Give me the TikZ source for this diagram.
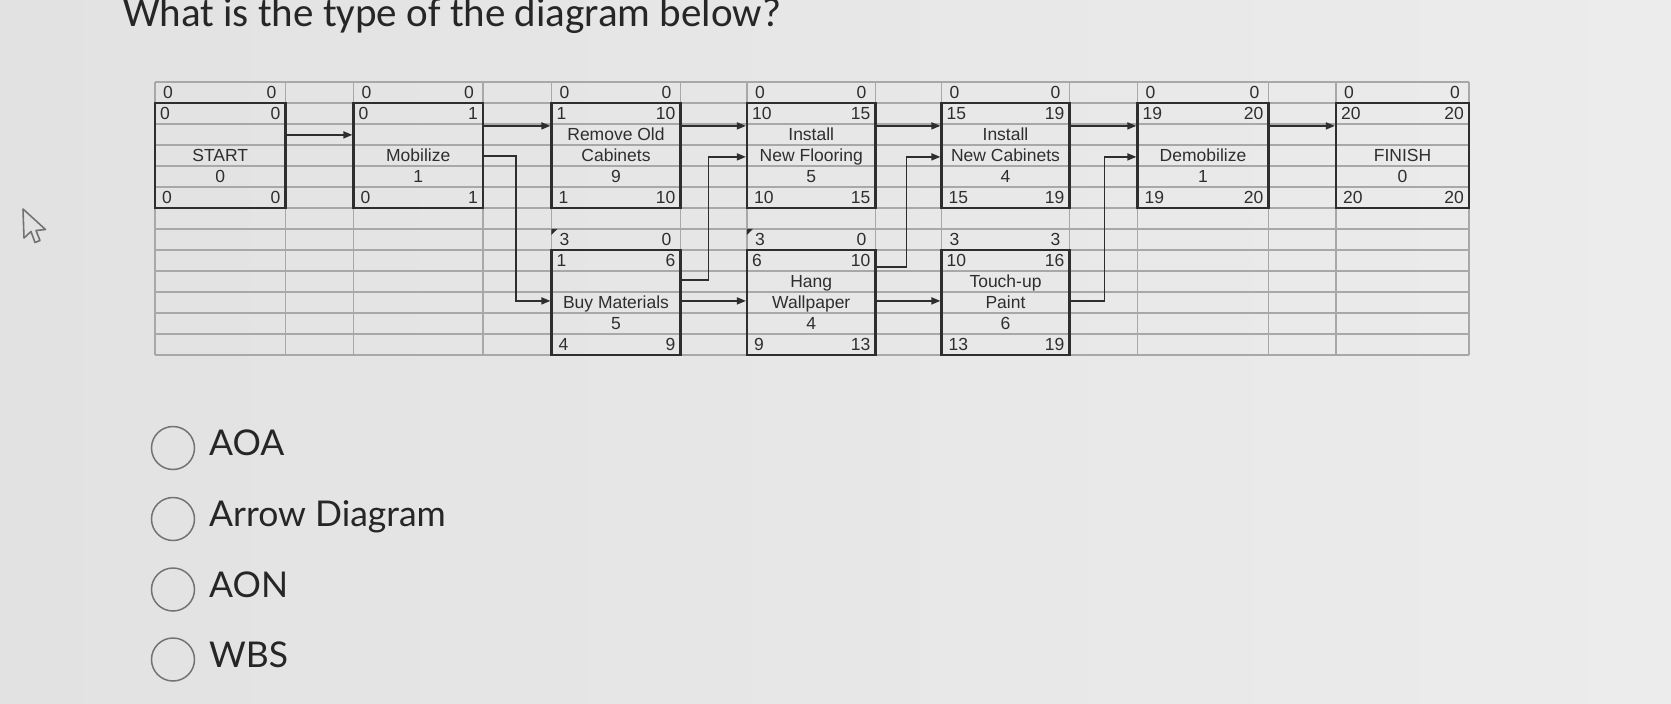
\documentclass[tikz,border=0pt]{standalone}
\usepackage{fontspec}
\setmainfont{Liberation Sans}
\newfontfamily\qfont{Carlito}
\newfontfamily\optfont{Lato}
\usepackage{tikz}
\usepackage{xcolor}
\usetikzlibrary{arrows.meta}
\definecolor{bgl}{HTML}{E2E2E2}
\definecolor{bgr}{HTML}{ECECEC}
\definecolor{gridgray}{HTML}{A8A8A8}
\definecolor{ink}{HTML}{2E2E2E}
\definecolor{qink}{HTML}{262626}
\tikzset{
	actbox/.style={draw=ink,line width=2.2pt,rectangle,inner sep=0pt},
	num/.style={font=\fontsize{17.5}{17.5}\selectfont,text=ink,inner sep=0pt,text height=12.6pt,text depth=0pt},
	gridline/.style={draw=gridgray,line width=1.1pt},
	link/.style={draw=ink,line width=1.6pt,-{Triangle[length=9pt,width=7pt]}},
	radio/.style={circle,draw=black!55,line width=1.5pt,minimum size=43pt,inner sep=0pt},
	opt/.style={font=\optfont\fontsize{35.5}{35.5}\selectfont,text=qink,inner sep=0pt},
}
\begin{document}
\begin{tikzpicture}[x=1pt,y=-1pt]
		\useasboundingbox (0,0) rectangle (1671,704);
		\fill[left color=bgl,right color=bgr] (0,0) rectangle (1671,704);
		\node[anchor=base west,font=\qfont\fontsize{41}{41}\selectfont,text=qink,inner sep=0pt] (question) at (123,26) {What is the type of the diagram below?};
		\draw[draw=black!55,line width=1.6pt,line join=round] (23,209) -- (24,238) -- (31,231.5) -- (35,242.5) -- (40,240.5) -- (36,230.5) -- (45.5,229.5) -- cycle;
		\foreach \cx in {155,285.5,353.5,483,551.5,680.5,747,875.5,941.5,1069.5,1137.5,1268.5,1336,1469}
			\draw[gridline] (\cx,82) -- (\cx,355);
		\foreach \k in {0,...,13}
			\draw[gridline] (155,{82+21*\k}) -- (1469,{82+21*\k});
		\foreach \aN/\aL/\aR/\aRow/\aTL/\aTR/\aES/\aEF/\aNA/\aNB/\aDU/\aLS/\aLF in {
			start/155/285.5/1/0/0/0/0/{}/START/0/0/0,
			mob/353.5/483/1/0/0/0/1/{}/Mobilize/1/0/1,
			rem/551.5/680.5/1/0/0/1/10/Remove Old/Cabinets/9/1/10,
			flo/747/875.5/1/0/0/10/15/Install/New Flooring/5/10/15,
			cab/941.5/1069.5/1/0/0/15/19/Install/New Cabinets/4/15/19,
			demob/1137.5/1268.5/1/0/0/19/20/{}/Demobilize/1/19/20,
			fin/1336/1469/1/0/0/20/20/{}/FINISH/0/20/20,
			buy/551.5/680.5/8/3/0/1/6/{}/Buy Materials/5/4/9,
			hang/747/875.5/8/3/0/6/10/Hang/Wallpaper/4/9/13,
			touch/941.5/1069.5/8/3/3/10/16/Touch-up/Paint/6/13/19}{
			\pgfmathsetmacro\yt{82+21*\aRow}
			\pgfmathsetmacro\xm{(\aL+\aR)/2}
			\node[actbox,minimum width={\aR-\aL},minimum height=105] (\aN) at (\xm,{\yt+52.5}) {};
			\node[num,anchor=west] (\aN-tl) at ({\aL+8},{\yt-10.5}) {\aTL};
			\node[num,anchor=east] (\aN-tr) at ({\aR-9},{\yt-10.5}) {\aTR};
			\node[num,anchor=west] (\aN-es) at ({\aL+5},{\yt+10.5}) {\aES};
			\node[num,anchor=east] (\aN-ef) at ({\aR-5},{\yt+10.5}) {\aEF};
			\node[num] (\aN-na) at (\xm,{\yt+31.5}) {\aNA};
			\node[num] (\aN-nb) at (\xm,{\yt+52.5}) {\aNB};
			\node[num] (\aN-du) at (\xm,{\yt+73.5}) {\aDU};
			\node[num,anchor=west] (\aN-ls) at ({\aL+7},{\yt+94.5}) {\aLS};
			\node[num,anchor=east] (\aN-lf) at ({\aR-5},{\yt+94.5}) {\aLF};
		}
		\fill[ink] ([shift={(1pt,20pt)}]buy.north west) -- ++(6,0) -- ++(-6,6) -- cycle;
		\fill[ink] ([shift={(1pt,20pt)}]hang.north west) -- ++(6,0) -- ++(-6,6) -- cycle;
		\draw[link] ([yshift=-33pt]start.north east) -- ([yshift=-33pt]mob.north west);
		\draw[link] ([yshift=-24pt]mob.north east) -- ([yshift=-24pt]rem.north west);
		\draw[link] ([yshift=-54pt]mob.north east) -- ++(32,0) |- ([yshift=-52pt]buy.north west);
		\draw[link] ([yshift=-24pt]rem.north east) -- ([yshift=-24pt]flo.north west);
		\draw[link] ([yshift=-31pt]buy.north east) -- ++(27,0) |- ([yshift=-55pt]flo.north west);
		\draw[link] ([yshift=-52pt]buy.north east) -- ([yshift=-52pt]hang.north west);
		\draw[link] ([yshift=-24pt]flo.north east) -- ([yshift=-24pt]cab.north west);
		\draw[link] ([yshift=-18pt]hang.north east) -- ++(30,0) |- ([yshift=-55pt]cab.north west);
		\draw[link] ([yshift=-52pt]hang.north east) -- ([yshift=-52pt]touch.north west);
		\draw[link] ([yshift=-24pt]cab.north east) -- ([yshift=-24pt]demob.north west);
		\draw[link] ([yshift=-52pt]touch.north east) -- ++(34,0) |- ([yshift=-55pt]demob.north west);
		\draw[link] ([yshift=-24pt]demob.north east) -- ([yshift=-24pt]fin.north west);
		\foreach \oy/\ot/\on in {448/AOA/aoa,519/Arrow Diagram/arrow,589.5/AON/aon,659.5/WBS/wbs}{
			\node[radio] (\on-c) at (173,\oy) {};
			\node[opt,anchor=base west] (\on) at (209,{\oy+7.5}) {\ot};
		}
	\end{tikzpicture}
\end{document}
